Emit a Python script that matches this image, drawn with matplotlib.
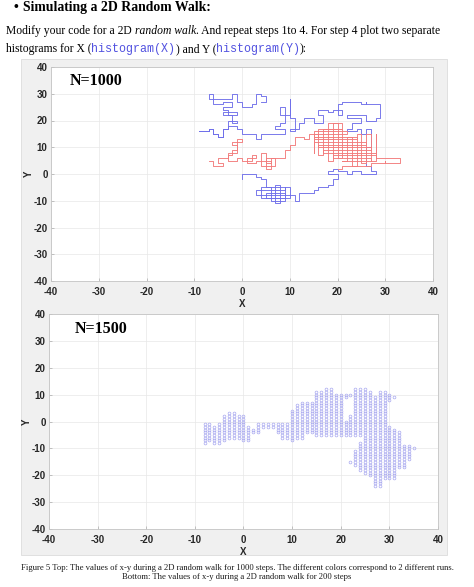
import numpy as np
import matplotlib
matplotlib.use('Agg')
import matplotlib.pyplot as plt
from matplotlib.patches import Rectangle

W, H = 474, 587
DPI = 100

# ---------------- data ----------------
TICKS = [-40, -30, -20, -10, 0, 10, 20, 30, 40]
TOP_LABEL = "N=1000"
BOTTOM_LABEL = "N=1500"

# run 1 (blue) of the 1000-step walk: lattice vertices (x, y)
BLUE_PATH = [
    (0, -2), (0, 0), (3, 0), (3, -1), (4, -1), (4, -2), (5, -2), (5, -4),
    (5, -5), (9, -5), (9, -6), (3, -6), (3, -8), (10, -8), (10, -9), (4, -9),
    (4, -5), (6, -5), (6, -10), (7, -10), (7, -4), (8, -4), (8, -11), (7, -11),
    (7, -10), (9, -10), (9, -7), (5, -7), (5, -9), (9, -9), (9, -5),
    (10, -5), (10, -8), (11, -8), (11, -10), (12, -10), (12, -7), (15, -7),
    (15, -6), (16, -6), (16, -5), (18, -5), (18, -4), (19, -4), (19, -2),
    (20, -2), (20, 0), (18, 0), (18, 1), (19, 1), (19, 2), (20, 2), (20, 1),
    (22, 1), (22, 0), (23, 0), (23, 1), (25, 1), (25, 0), (28, 0), (28, 1),
    (27, 1), (27, 3), (26, 3), (26, 10), (27, 10), (27, 17), (26, 17),
    (26, 15), (25, 15), (25, 17), (24, 17), (24, 16), (22, 16), (22, 17),
    (23, 17), (23, 19), (25, 19), (25, 21), (22, 21), (22, 22), (26, 22),
    (26, 20), (28, 20), (28, 21), (29, 21), (29, 26), (26, 26), (26, 27),
    (26, 26), (25, 26), (25, 27), (21, 27), (21, 26), (20, 26), (20, 24),
    (21, 24), (21, 22), (20, 22), (20, 24), (19, 24), (19, 23), (18, 23),
    (18, 24), (16, 24), (16, 22), (17, 22), (17, 19), (15, 19), (15, 21),
    (13, 21), (13, 19), (12, 19), (12, 17), (11, 17), (11, 16), (10, 16),
    (10, 17), (11, 17), (11, 21), (10, 21), (10, 28), (10, 22), (9, 22),
    (9, 25), (8, 25), (8, 22), (9, 22), (9, 19), (8, 19), (8, 18), (7, 18),
    (7, 17), (9, 17), (9, 15), (4, 15), (4, 13), (3, 13), (3, 15), (0, 15),
    (0, 17), (-1, 17), (-1, 18), (-3, 18),
    (-3, 17), (-4, 17), (-4, 14), (-5, 14), (-5, 15), (-6, 15), (-6, 17),
    (-7, 17), (-7, 16), (-9, 16), (-7, 16), (-7, 17), (-6, 17), (-6, 15),
    (-5, 15), (-5, 14), (-4, 14), (-4, 17), (-3, 17), (-3, 18),
    (-3, 20), (-1, 20), (-1, 19), (-2, 19), (-2, 22), (-4, 22), (-4, 23),
    (-1, 23), (-1, 22), (-3, 22), (-3, 24), (-4, 24), (-4, 25), (-2, 25),
    (-2, 27), (-4, 27), (-4, 26), (-6, 26), (-6, 28), (-7, 28), (-7, 30),
    (-6, 30), (-6, 28), (-2, 28), (-2, 30), (-1, 30), (-1, 27), (0, 27),
    (0, 25), (2, 25), (2, 26), (3, 26), (3, 30), (4, 30), (4, 29), (5, 29),
    (5, 27), (4, 27),
]

# run 2 (red) of the 1000-step walk
RED_PATH = [
    (-7, 5), (-6, 5), (-6, 3), (-4, 3), (-4, 4), (-5, 4), (-5, 6), (-3, 6),
    (-3, 7), (-2, 7), (-2, 9), (-1, 9), (-1, 11), (-2, 11), (-2, 12), (-1, 12),
    (-1, 13), (0, 13), (0, 12), (-1, 12), (-1, 8), (-3, 8), (-3, 5), (-1, 5),
    (-1, 6), (0, 6), (0, 5), (2, 5), (2, 7), (3, 7), (3, 6), (1, 6), (1, 4),
    (3, 4), (3, 5), (4, 5), (4, 8), (5, 8), (5, 2), (6, 2), (6, 5), (4, 5),
    (4, 3), (7, 3), (7, 6), (5, 6), (5, 4), (6, 4), (6, 6), (9, 6), (9, 9),
    (10, 9), (10, 11), (11, 11), (11, 14), (13, 14), (13, 13), (14, 13),
    (14, 15), (16, 15), (16, 14), (15, 14), (15, 8),
    (15, 16), (16, 16), (16, 7), (17, 7), (17, 17), (18, 17), (18, 5),
    (19, 5), (19, 19), (20, 19), (20, 6), (21, 6), (21, 19), (18, 19),
    (18, 17), (21, 17), (16, 17), (16, 16), (22, 16), (22, 15), (15, 15),
    (15, 14), (24, 14), (24, 13), (15, 13), (15, 12), (26, 12), (26, 11),
    (16, 11), (16, 10), (27, 10), (27, 9), (17, 9), (17, 8), (28, 8),
    (28, 7), (19, 7), (19, 6), (27, 6), (27, 5), (21, 5),
    (22, 5), (22, 14), (23, 14), (23, 3), (24, 3), (24, 15), (25, 15),
    (25, 4), (26, 4), (26, 15), (27, 15), (27, 5), (28, 5), (28, 15),
    (28, 6), (33, 6), (33, 4), (30, 4), (30, 5), (30, 4), (27, 4), (27, 3),
    (21, 3), (21, 2), (20, 2),
]

# 1500-step walk: visited lattice sites, per column x: lowest and highest y
COL_X = [-8, -7, -6, -5, -4, -3, -2, -1, 0, 1, 2, 3, 4, 5, 6, 7, 8, 9, 10,
         11, 12, 13, 14, 15, 16, 17, 18, 19, 20, 21, 21, 22, 22, 22, 23, 23,
         24, 24, 25, 26, 27, 28, 29, 30, 30, 31, 31, 32, 33, 34, 35]
COL_LO = [-8, -7, -8, -8, -7, -6, -6, -6, -7, -7, -4, -4, -2, -2, -2, -4, -6,
          -6, -7, -6, -6, -4, -4, -5, -5, -5, -5, -5, -5, -5, 9, -5, 10, -15,
          -5, -16, -5, -18, -19, -20, -24, -24, -21, 8, -21, 9, -21, -17, -17,
          -14, -10]
COL_HI = [-1, -1, -2, -1, 2, 3, 3, 2, 2, -2, -3, -1, -1, -1, -1, -1, -1, -1,
          4, 6, 7, 7, 7, 11, 11, 12, 12, 10, 10, 0, 10, 2, 10, -15, 12, -11,
          12, -8, 12, 11, 9, 11, 11, 10, -2, 9, -3, -4, -9, -9, -10]

# ---------------- figure ----------------
fig = plt.figure(figsize=(W / DPI, H / DPI), dpi=DPI)
fig.patch.set_facecolor('white')


def fx(px):
    return px / W


def fy(py):
    return 1 - py / H


def box(l, t, r, b):
    return [l / W, 1 - b / H, (r - l) / W, (b - t) / H]


# grey figure panel behind the two plots
fig.patches.append(Rectangle((fx(21), fy(555)), (447 - 21) / W, (555 - 59) / H,
                             transform=fig.transFigure, facecolor='#f0f0f0',
                             edgecolor='#dcdcdc', lw=0.6, zorder=-5))

TICK_FONT = dict(family='Liberation Sans', weight='bold', size=7.0, color='#262626')


def style_axes(ax):
    ax.set_zorder(2)
    ax.set_xlim(-40, 40)
    ax.set_ylim(-40, 40)
    ax.set_xticks(TICKS)
    ax.set_yticks(TICKS)
    ax.set_xticklabels([str(t) for t in TICKS], fontdict=TICK_FONT)
    ax.set_yticklabels([str(t) for t in TICKS], fontdict=TICK_FONT)
    ax.grid(True, color='#e8e8e8', lw=0.5)
    ax.set_axisbelow(True)
    ax.tick_params(axis='x', direction='in', length=2, width=0.4, color='#9a9a9a', pad=4.0)
    ax.tick_params(axis='y', direction='in', length=2, width=0.4, color='#9a9a9a', pad=2.5)
    for s in ax.spines.values():
        s.set_color('#c4c4c4')
        s.set_linewidth(0.6)
    ax.set_xlabel('X', fontdict=TICK_FONT, labelpad=1.5)
    ax.set_ylabel('Y', fontdict=TICK_FONT, labelpad=0)
    ax.set_facecolor('white')


ax1 = fig.add_axes(box(51, 67, 433, 281))
style_axes(ax1)
bx = [p[0] for p in BLUE_PATH]
by = [p[1] for p in BLUE_PATH]
rx = [p[0] for p in RED_PATH]
ry = [p[1] for p in RED_PATH]
ax1.plot(bx, by, drawstyle='steps-post', color='#7070ea', lw=0.65)
ax1.plot(rx, ry, drawstyle='steps-post', color='#f27c7c', lw=0.65)
ax1.text(0.05, 0.935, TOP_LABEL, transform=ax1.transAxes, ha='left', va='center',
         family='Liberation Serif', weight='bold', size=11.5, color='black')

ax2 = fig.add_axes(box(49, 314, 438, 529))
style_axes(ax2)
px, py = [], []
for x, lo, hi in zip(COL_X, COL_LO, COL_HI):
    for y in range(lo, hi + 1):
        px.append(x)
        py.append(y)
ax2.plot(px, py, ls='none', marker='o', ms=2.0, mfc='none', mec='#a8a8f0', mew=0.5)
ax2.text(0.067, 0.93, BOTTOM_LABEL, transform=ax2.transAxes, ha='left', va='center',
         family='Liberation Serif', weight='bold', size=11.5, color='black')

# ---------------- document text ----------------
renderer = fig.canvas.get_renderer()


def width_px(text, props):
    t1 = fig.text(0, 0, text + 'x', **props)
    t2 = fig.text(0, 0, 'x', **props)
    w = t1.get_window_extent(renderer).width - t2.get_window_extent(renderer).width
    t1.remove()
    t2.remove()
    return w


def runs(x, y, parts):
    for text, props in parts:
        fig.text(fx(x), fy(y), text, ha='left', va='baseline', **props)
        x += width_px(text, props)


SERIF = dict(family='Liberation Serif', size=8.4, color='black')
SERIF_IT = dict(family='Liberation Serif', size=8.4, style='italic', color='black')
MONO = dict(family='Liberation Mono', size=8.4, color='#5252e0')
HEAD = dict(family='Liberation Serif', size=9.9, weight='bold', color='black')

fig.text(fx(13), fy(10.5), '\u2022', ha='left', va='baseline', **HEAD)
fig.text(fx(23), fy(10.5), 'Simulating a 2D Random Walk:', ha='left', va='baseline', **HEAD)

runs(6, 34, [('Modify your code for a 2D ', SERIF), ('random walk', SERIF_IT),
             ('. And repeat steps 1to 4. For step 4 plot two separate', SERIF)])
runs(6, 52, [('histograms for X (', SERIF), ('histogram(X)', MONO),
             (') and Y (', SERIF), ('histogram(Y)', MONO), ('):', SERIF)])

CAP = dict(family='Liberation Serif', size=6.25, color='#1a1a1a')
fig.text(0.5, fy(569.5), 'Figure 5 Top: The values of x-y during a 2D random walk for 1000 steps. '
         'The different colors correspond to 2 different runs.', ha='center', va='baseline', **CAP)
fig.text(0.5, fy(579), 'Bottom: The values of x-y during a 2D random walk for 200 steps',
         ha='center', va='baseline', **CAP)

fig.savefig('out.png', dpi=DPI, facecolor='white')
